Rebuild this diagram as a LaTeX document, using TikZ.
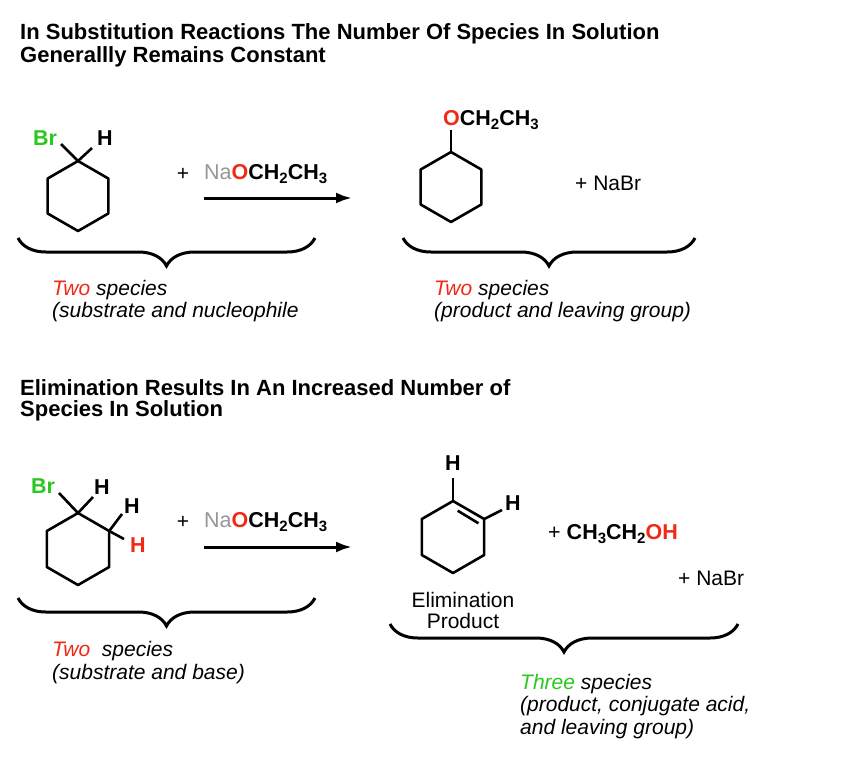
\documentclass[tikz,border=0pt]{standalone}
\usepackage{fontspec}
\setmainfont{Liberation Sans}
\usetikzlibrary{decorations.pathreplacing,calc,arrows.meta}
\definecolor{brg}{RGB}{40,200,30}
\definecolor{ored}{RGB}{240,40,20}
\definecolor{nag}{RGB}{150,150,150}
\newcommand\sbs[1]{\raisebox{-0.35ex}{\fontsize{15}{15}\selectfont #1}}
\tikzset{
 ttl/.style={anchor=west,font=\fontsize{22}{26}\selectfont\bfseries,inner sep=0},
 atm/.style={font=\fontsize{21.5}{24}\selectfont\bfseries,inner sep=0},
 lab/.style={anchor=west,font=\fontsize{21}{24}\selectfont\itshape,inner sep=0},
 txt/.style={font=\fontsize{21}{24}\selectfont,inner sep=0},
 bnd/.style={line width=2.6pt,line join=round},
 brc/.style={line width=3pt,decorate,decoration={brace,mirror,amplitude=28pt}},
 rarr/.style={line width=3pt,-{Latex[length=16pt,width=11pt]}}
}
\begin{document}
\begin{tikzpicture}[x=1pt,y=-1pt]
\useasboundingbox (0,0) rectangle (842,772);
\node[ttl] (t1) at (20,34) {In Substitution Reactions The Number Of Species In Solution};
\node[ttl] (t1b) at (20,57) {Generallly Remains Constant};
% substrate 1
\foreach \i/\a in {1/90,2/150,3/210,4/270,5/330,6/30}
  \coordinate (a\i) at ($(78,196)+(\a:35 and -35)$);
\draw[bnd] (a1)--(a2)--(a3)--(a4)--(a5)--(a6)--cycle;
\node[atm,text=brg] (br1) at (45,138) {Br};
\node[atm] (h1) at (105,138) {H};
\draw[bnd] (a1)--(61,144);
\draw[bnd] (a1)--(92,148);
\node[txt] (p1) at (183,174) {+};
\node[atm,anchor=west] (r1) at (204,174) {\mdseries\textcolor{nag}{Na}\bfseries\textcolor{ored}{O}CH\sbs{2}CH\sbs{3}};
\coordinate (ar1s) at (204,198); \coordinate (ar1e) at (352,198);
\draw[rarr] (ar1s)--(ar1e);
% product 1
\foreach \i/\a in {1/90,2/150,3/210,4/270,5/330,6/30}
  \coordinate (b\i) at ($(451,187)+(\a:35 and -35)$);
\draw[bnd] (b1)--(b2)--(b3)--(b4)--(b5)--(b6)--cycle;
\node[atm,anchor=west] (o1) at (443,120) {\textcolor{ored}{O}CH\sbs{2}CH\sbs{3}};
\coordinate (o1b) at (451,130);
\draw[bnd] (b1)--(o1b);
\node[txt,anchor=west] (nabr1) at (575,183) {+ NaBr};
\coordinate (br1s) at (18,238); \coordinate (br1e) at (315,238);
\draw[brc] (br1s)--(br1e);
\coordinate (br2s) at (403,238); \coordinate (br2e) at (695,238);
\draw[brc] (br2s)--(br2e);
\node[lab] (l1) at (52,290) {\textcolor{ored}{Two} species};
\node[lab] (l1b) at (52,312) {(substrate and nucleophile};
\node[lab] (l2) at (434,290) {\textcolor{ored}{Two} species};
\node[lab] (l2b) at (434,312) {(product and leaving group)};
% part 2
\node[ttl] (t2) at (20,388) {Elimination Results In An Increased Number of};
\node[ttl] (t2b) at (20,411) {Species In Solution};
\foreach \i/\a in {1/90,2/150,3/210,4/270,5/330,6/30}
  \coordinate (c\i) at ($(78,549)+(\a:36 and -36)$);
\draw[bnd] (c1)--(c2)--(c3)--(c4)--(c5)--(c6)--cycle;
\node[atm,text=brg] (br2) at (43,486) {Br};
\node[atm] (h2) at (102,487) {H};
\node[atm] (h3) at (132,506) {H};
\node[atm,text=ored] (h4) at (138,545) {H};
\draw[bnd] (c1)--(59,493);
\draw[bnd] (c1)--(93,497);
\draw[bnd] (c6)--(122,514);
\draw[bnd] (c6)--(124,539);
\node[txt] (p2) at (183,522) {+};
\node[atm,anchor=west] (r2) at (204,522) {\mdseries\textcolor{nag}{Na}\bfseries\textcolor{ored}{O}CH\sbs{2}CH\sbs{3}};
\coordinate (ar2s) at (204,547); \coordinate (ar2e) at (352,547);
\draw[rarr] (ar2s)--(ar2e);
\foreach \i/\a in {1/90,2/150,3/210,4/270,5/330,6/30}
  \coordinate (d\i) at ($(453,537)+(\a:36 and -36)$);
\draw[bnd] (d1)--(d2)--(d3)--(d4)--(d5)--(d6)--cycle;
\draw[bnd] ($(d1)!0.15!(d6)+(0,7)$)--($(d6)!0.15!(d1)+(-1,7)$);
\node[atm] (h5) at (453,463) {H};
\node[atm] (h6) at (513,503) {H};
\draw[bnd] (d1)--(453,478);
\draw[bnd] (d6)--(502,510);
\node[atm,anchor=west] (eth) at (548,534) {\mdseries+ \bfseries CH\sbs{3}CH\sbs{2}\textcolor{ored}{OH}};
\node[txt,anchor=west] (nabr2) at (678,578) {+ NaBr};
\node[txt] (el) at (463,600) {Elimination};
\node[txt] (elb) at (463,621) {Product};
\coordinate (br3s) at (18,598); \coordinate (br3e) at (315,598);
\draw[brc] (br3s)--(br3e);
\coordinate (br4s) at (390,624); \coordinate (br4e) at (738,624);
\draw[brc] (br4s)--(br4e);
\node[lab] (l3) at (52,651) {\textcolor{ored}{Two}\ \ species};
\node[lab] (l3b) at (52,674) {(substrate and base)};
\node[lab] (l4) at (520,684) {\textcolor{brg}{Three} species};
\node[lab] (l4b) at (520,706) {(product, conjugate acid,};
\node[lab] (l4c) at (520,729) {and leaving group)};
\end{tikzpicture}
\end{document}
